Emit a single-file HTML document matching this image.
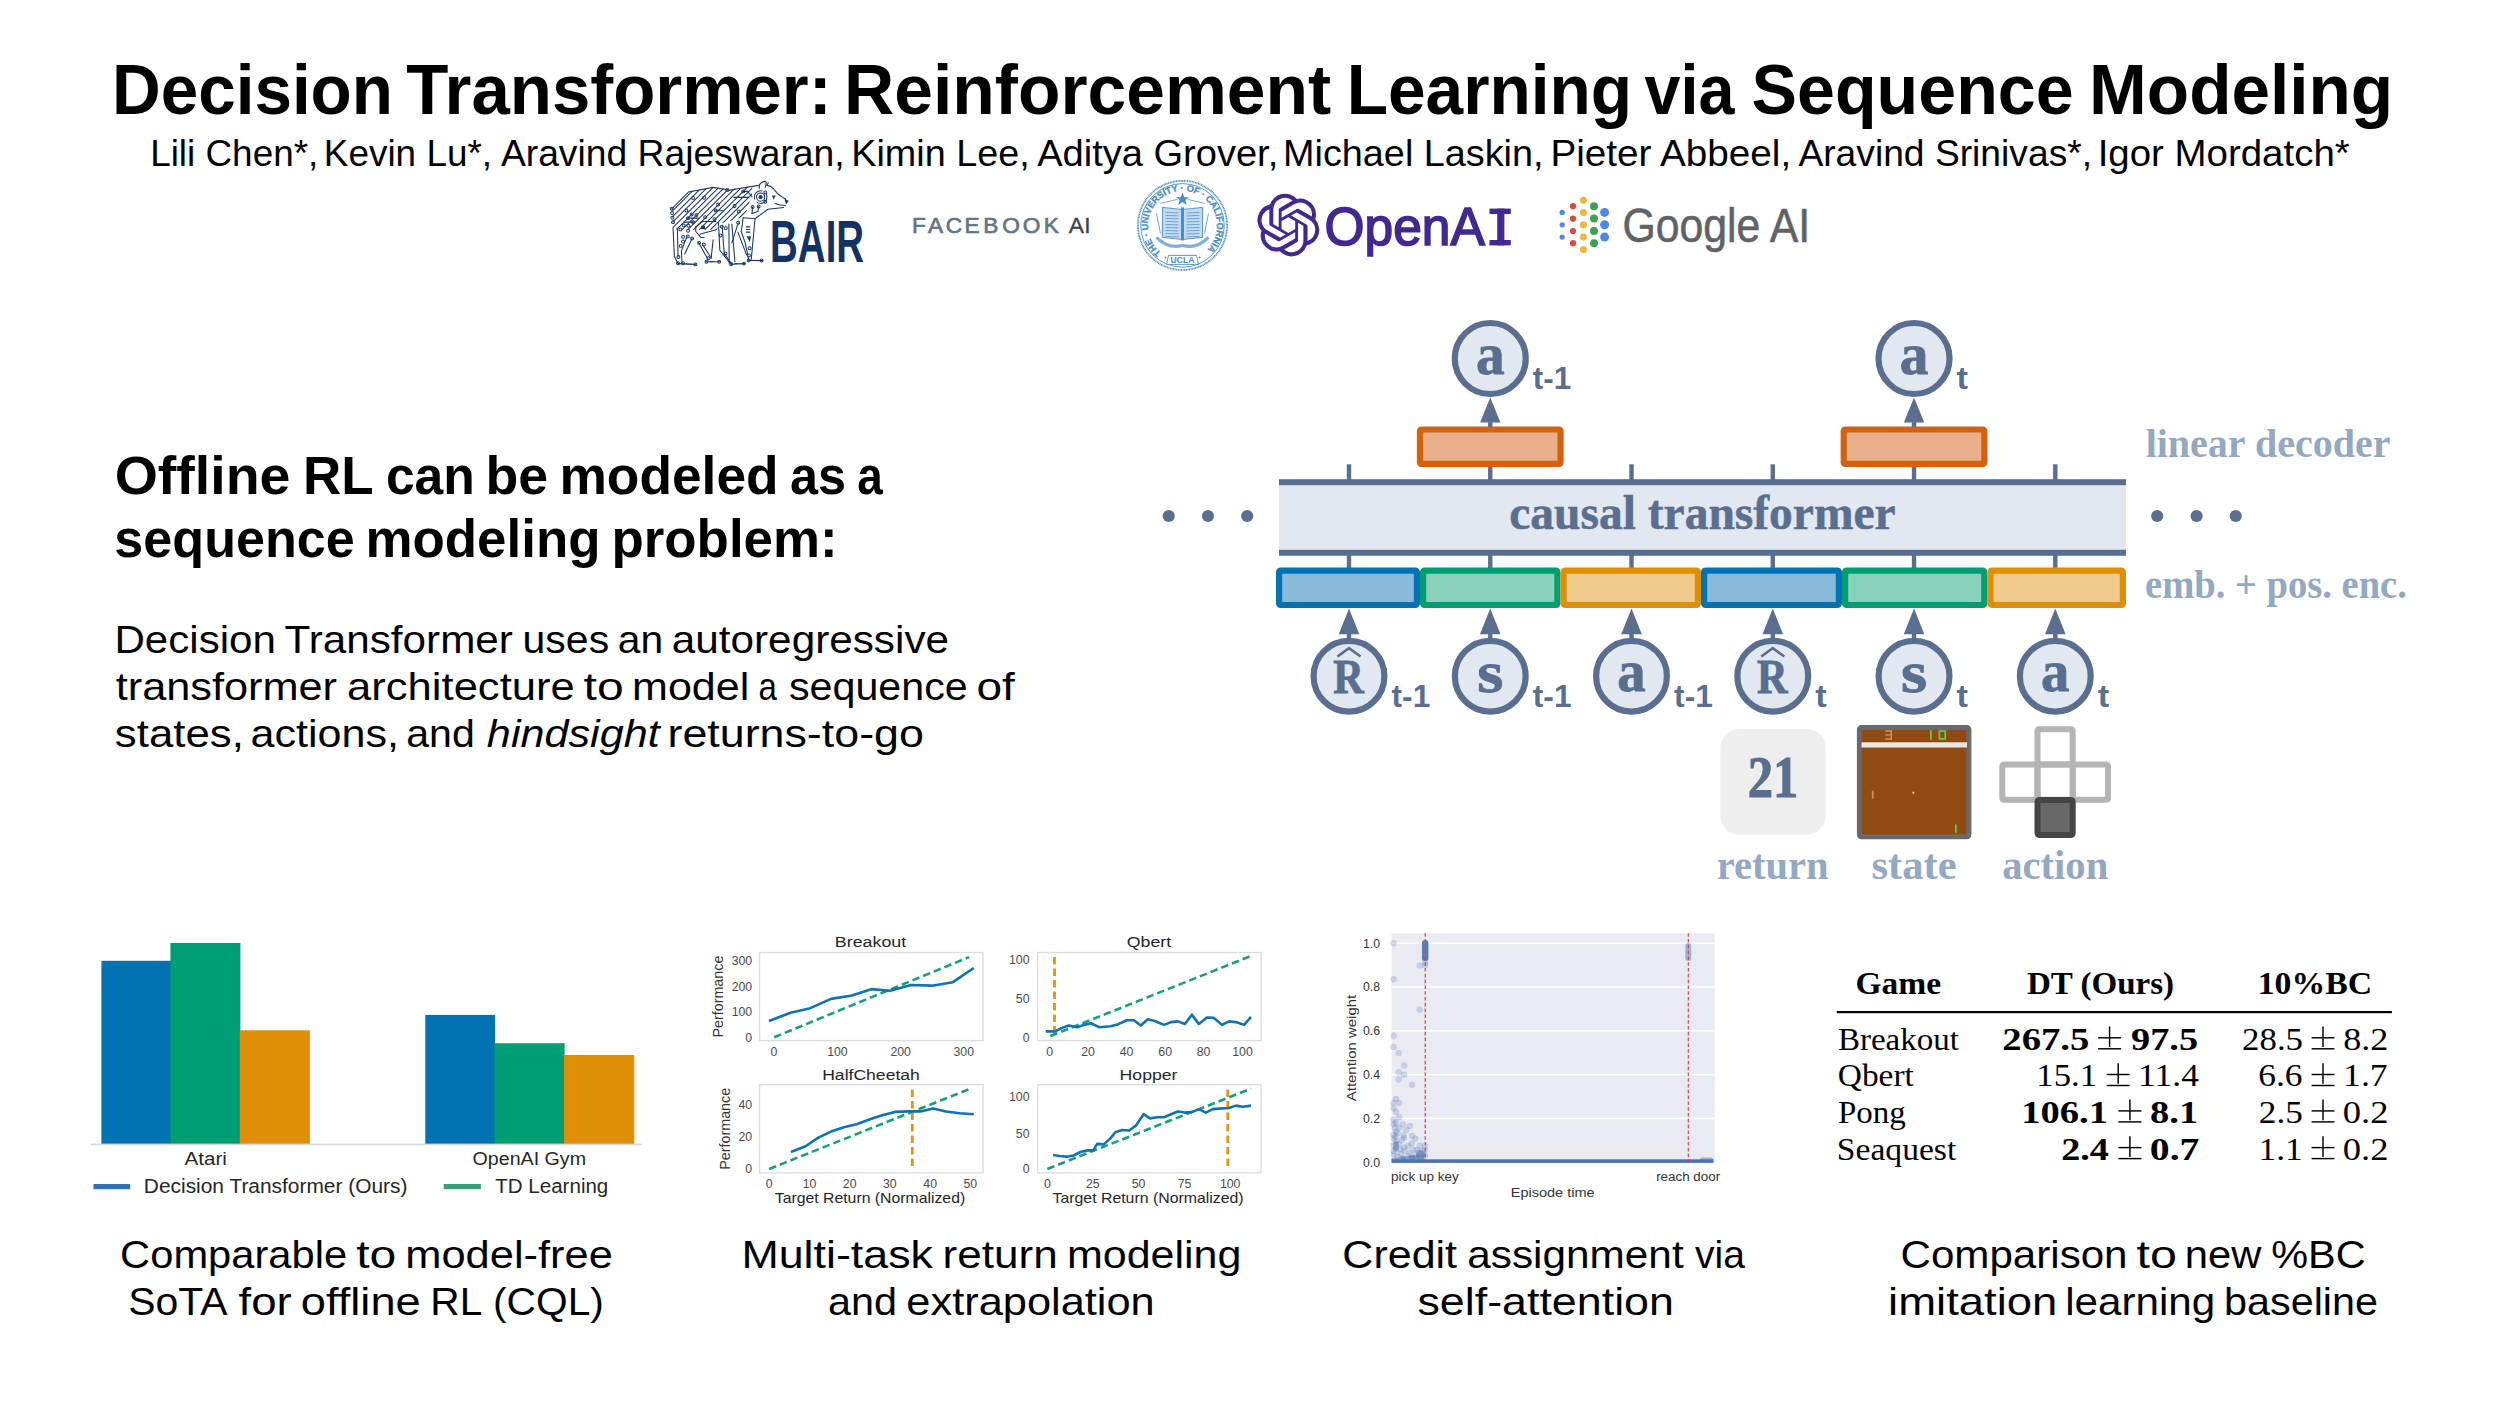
<!DOCTYPE html>
<html><head><meta charset="utf-8"><title>Decision Transformer</title>
<style>html,body{margin:0;padding:0;background:#fff;width:2500px;height:1406px;overflow:hidden}svg{display:block}text{font-kerning:normal}</style>
</head><body>
<svg width="2500" height="1406" viewBox="0 0 2500 1406">
<rect width="2500" height="1406" fill="#fff"/>
<text x="112.09" y="113.60" font-size="70" font-family='"Liberation Sans", sans-serif' font-weight="bold" font-style="normal" fill="#000" textLength="280.85" lengthAdjust="spacingAndGlyphs" >Decision</text>
<text x="406.23" y="113.60" font-size="70" font-family='"Liberation Sans", sans-serif' font-weight="bold" font-style="normal" fill="#000" textLength="425.47" lengthAdjust="spacingAndGlyphs" >Transformer:</text>
<text x="844.09" y="113.60" font-size="70" font-family='"Liberation Sans", sans-serif' font-weight="bold" font-style="normal" fill="#000" textLength="487.01" lengthAdjust="spacingAndGlyphs" >Reinforcement</text>
<text x="1346.72" y="113.60" font-size="70" font-family='"Liberation Sans", sans-serif' font-weight="bold" font-style="normal" fill="#000" textLength="285.43" lengthAdjust="spacingAndGlyphs" >Learning</text>
<text x="1644.57" y="113.60" font-size="70" font-family='"Liberation Sans", sans-serif' font-weight="bold" font-style="normal" fill="#000" textLength="89.93" lengthAdjust="spacingAndGlyphs" >via</text>
<text x="1751.51" y="113.60" font-size="70" font-family='"Liberation Sans", sans-serif' font-weight="bold" font-style="normal" fill="#000" textLength="322.14" lengthAdjust="spacingAndGlyphs" >Sequence</text>
<text x="2089.11" y="113.60" font-size="70" font-family='"Liberation Sans", sans-serif' font-weight="bold" font-style="normal" fill="#000" textLength="304.09" lengthAdjust="spacingAndGlyphs" >Modeling</text>
<text x="150.17" y="166.00" font-size="37.5" font-family='"Liberation Sans", sans-serif' font-weight="normal" font-style="normal" fill="#000" textLength="168.10" lengthAdjust="spacingAndGlyphs" >Lili Chen*,</text>
<text x="323.87" y="166.00" font-size="37.5" font-family='"Liberation Sans", sans-serif' font-weight="normal" font-style="normal" fill="#000" textLength="168.17" lengthAdjust="spacingAndGlyphs" >Kevin Lu*,</text>
<text x="500.90" y="166.00" font-size="37.5" font-family='"Liberation Sans", sans-serif' font-weight="normal" font-style="normal" fill="#000" textLength="343.71" lengthAdjust="spacingAndGlyphs" >Aravind Rajeswaran,</text>
<text x="851.29" y="166.00" font-size="37.5" font-family='"Liberation Sans", sans-serif' font-weight="normal" font-style="normal" fill="#000" textLength="178.35" lengthAdjust="spacingAndGlyphs" >Kimin Lee,</text>
<text x="1037.15" y="166.00" font-size="37.5" font-family='"Liberation Sans", sans-serif' font-weight="normal" font-style="normal" fill="#000" textLength="241.12" lengthAdjust="spacingAndGlyphs" >Aditya Grover,</text>
<text x="1283.04" y="166.00" font-size="37.5" font-family='"Liberation Sans", sans-serif' font-weight="normal" font-style="normal" fill="#000" textLength="260.52" lengthAdjust="spacingAndGlyphs" >Michael Laskin,</text>
<text x="1550.47" y="166.00" font-size="37.5" font-family='"Liberation Sans", sans-serif' font-weight="normal" font-style="normal" fill="#000" textLength="240.71" lengthAdjust="spacingAndGlyphs" >Pieter Abbeel,</text>
<text x="1798.40" y="166.00" font-size="37.5" font-family='"Liberation Sans", sans-serif' font-weight="normal" font-style="normal" fill="#000" textLength="293.68" lengthAdjust="spacingAndGlyphs" >Aravind Srinivas*,</text>
<text x="2097.67" y="166.00" font-size="37.5" font-family='"Liberation Sans", sans-serif' font-weight="normal" font-style="normal" fill="#000" textLength="252.06" lengthAdjust="spacingAndGlyphs" >Igor Mordatch*</text>
<g transform="translate(665,176) scale(0.06687)">
<defs><clipPath id="bearclip"><path d="M95,480 L350,232 L720,163 L940,198 L1090,185 L1310,150 L1300,290 L1190,610 L800,720 L760,860 L470,960 L350,860 L120,780 Z"/></clipPath></defs>
<g fill="none" stroke="#1c3768" stroke-width="16" stroke-linecap="round" stroke-linejoin="round">
<path d="M100,490 L350,240 L720,170 L930,205"/>
<path d="M960,215 L1090,190 L1400,140"/>
<path d="M1410,185 L1410,140 Q1440,80 1500,80 L1515,95 L1500,170"/><path d="M1525,140 L1545,100"/>
<path d="M1525,140 L1580,155 L1630,200 L1690,270 L1760,320 L1800,340"/>
<path d="M1645,410 Q1710,440 1800,440"/>
<path d="M1775,470 L1540,498 L1345,640 L1170,625"/>
<g clip-path="url(#bearclip)">
<path d="M-250,800 L430,120"/>
<path d="M-165,800 L515,120"/>
<path d="M-80,800 L600,120"/>
<path d="M5,800 L685,120"/>
<path d="M90,800 L770,120"/>
<path d="M175,800 L855,120"/>
<path d="M260,800 L940,120"/>
<path d="M345,800 L1025,120"/>
<path d="M430,800 L1110,120"/>
<path d="M515,800 L1195,120"/>
<path d="M600,800 L1280,120"/>
<path d="M685,800 L1365,120"/>
<path d="M770,800 L1450,120"/>
<path d="M855,800 L1535,120"/>
<path d="M940,800 L1620,120"/>
<path d="M1025,800 L1705,120"/>
<path d="M1110,800 L1790,120"/>
<path d="M1195,800 L1875,120"/>
<path d="M280,690 L450,690"/><path d="M330,630 L500,630"/><path d="M750,520 L880,520"/><path d="M1030,320 L1250,320"/>
<path d="M460,760 L560,680 L760,680"/><path d="M460,760 L460,830 L540,920 L700,920 L790,860"/><path d="M520,870 L780,800"/>
</g>
<path d="M120,770 L140,1200 L190,1305"/><path d="M185,780 L195,1205"/><path d="M255,1300 L245,1120 L330,900"/><path d="M295,1165 L405,935"/>
<path d="M200,1310 L455,1322"/>
<path d="M500,990 L640,1240"/><path d="M560,1020 L690,1225"/><path d="M720,955 L690,1230"/><path d="M610,1282 L820,1282"/>
<path d="M800,700 L820,1110 L985,1320"/><path d="M855,740 L885,1160 L1000,1318"/><path d="M955,720 L960,1300"/><path d="M1000,720 L1045,1285"/><path d="M1095,700 L1000,1000"/><path d="M990,1320 L1190,1310"/>
<path d="M1170,625 L1140,830 L1200,1000 L1250,1250"/><path d="M1345,650 L1290,1245"/><path d="M1250,1262 L1460,1265"/><path d="M1090,840 L1220,1180"/>
<path d="M1300,560 L1310,465"/><path d="M1300,560 L1390,530 L1400,455"/>
<circle cx="1430" cy="315" r="62"/><circle cx="1430" cy="315" r="95" stroke-dasharray="200 60"/>
<path d="M1170,230 L1235,230 L1300,310"/>
</g>
<g fill="none" stroke="#1c3768" stroke-width="15">
<circle cx="100" cy="490" r="22"/>
<circle cx="105" cy="555" r="22"/>
<circle cx="110" cy="625" r="22"/>
<circle cx="120" cy="690" r="22"/>
<circle cx="200" cy="1210" r="22"/>
<circle cx="195" cy="1305" r="22"/>
<circle cx="270" cy="1305" r="22"/>
<circle cx="455" cy="1322" r="22"/>
<circle cx="420" cy="330" r="22"/>
<circle cx="585" cy="325" r="22"/>
<circle cx="320" cy="515" r="22"/>
<circle cx="400" cy="575" r="22"/>
<circle cx="470" cy="585" r="22"/>
<circle cx="600" cy="615" r="22"/>
<circle cx="740" cy="645" r="22"/>
<circle cx="795" cy="425" r="22"/>
<circle cx="1040" cy="450" r="22"/>
<circle cx="1105" cy="530" r="22"/>
<circle cx="930" cy="210" r="22"/>
<circle cx="1170" cy="230" r="22"/>
<circle cx="1310" cy="465" r="22"/>
<circle cx="1400" cy="455" r="22"/>
<circle cx="1500" cy="245" r="22"/>
<circle cx="1500" cy="385" r="22"/>
<circle cx="350" cy="745" r="22"/>
<circle cx="230" cy="800" r="22"/>
<circle cx="280" cy="740" r="22"/>
<circle cx="345" cy="820" r="22"/>
<circle cx="270" cy="910" r="22"/>
<circle cx="235" cy="1045" r="22"/>
<circle cx="270" cy="980" r="22"/>
<circle cx="340" cy="905" r="22"/>
<circle cx="405" cy="935" r="22"/>
<circle cx="620" cy="1282" r="22"/>
<circle cx="810" cy="1282" r="22"/>
<circle cx="650" cy="1230" r="22"/>
<circle cx="990" cy="1320" r="22"/>
<circle cx="1180" cy="1310" r="22"/>
<circle cx="1250" cy="1262" r="22"/>
<circle cx="1445" cy="1265" r="22"/>
<circle cx="1255" cy="1190" r="22"/>
<circle cx="1265" cy="1080" r="22"/>
<circle cx="905" cy="1160" r="22"/>
<circle cx="1095" cy="700" r="22"/>
<circle cx="850" cy="760" r="22"/>
<circle cx="910" cy="780" r="22"/>
<circle cx="830" cy="890" r="22"/>
<circle cx="420" cy="690" r="22"/>
<circle cx="345" cy="630" r="22"/>
<circle cx="760" cy="515" r="22"/>
<circle cx="580" cy="1025" r="22"/>
<circle cx="510" cy="1000" r="22"/>
</g>
<g fill="#1c3768"><circle cx="1430" cy="315" r="32"/><path d="M1600,290 L1655,290 L1625,350 Z"/><path d="M1785,335 L1850,372 L1810,425 Z"/><rect x="540" y="745" width="60" height="50"/><path d="M1220,900 L1285,900 L1270,990 Z"/><path d="M1210,760 L1275,760 M1210,800 L1275,800 M1210,840 L1275,840" stroke="#1c3768" stroke-width="18"/><path d="M320,1305 L430,1322 L320,1322Z"/><path d="M670,1270 L790,1285 L670,1290Z"/><path d="M1040,1300 L1150,1312 L1040,1318Z"/><path d="M1290,1255 L1400,1265 L1290,1272Z"/></g>
</g>
<text x="770.12" y="262.00" font-size="59.6" font-family='"Liberation Sans", sans-serif' font-weight="bold" font-style="normal" fill="#143163" textLength="93.96" lengthAdjust="spacingAndGlyphs" >BAIR</text>
<text x="911.94 927.96 945.65 964.54 983.34 1002.13 1022.73 1043.74" y="233.0" font-size="22.7" font-family='"Liberation Sans", sans-serif' fill="#627585" stroke="#627585" stroke-width="0.7">FACEBOOK</text>
<text x="1068.76 1084.31" y="233.0" font-size="22.7" font-family='"Liberation Sans", sans-serif' fill="#36444e" stroke="#36444e" stroke-width="0.35">AI</text>
<g fill="none" stroke="#4a8dcb">
<circle cx="1182.5" cy="225.4" r="44.6" stroke-width="1.7" stroke-dasharray="1.1 0.5"/>
<circle cx="1182.5" cy="225.4" r="41.8" stroke-width="0.9"/>
</g>
<defs><path id="sealtxt" d="M1161.26,252.59 A34.5,34.5 0 1,1 1203.74,252.59"/></defs>
<text font-family='"Liberation Sans", sans-serif' font-size="9.2" font-weight="bold" fill="#4a8dcb" stroke="#4a8dcb" stroke-width="0.3"><textPath href="#sealtxt" textLength="166" lengthAdjust="spacing">THE · UNIVERSITY · OF · CALIFORNIA</textPath></text>
<circle cx="1165.5" cy="257.4" r="1" fill="#4a8dcb"/><circle cx="1199.5" cy="257.4" r="1" fill="#4a8dcb"/>
<g fill="#c4daf0" stroke="#4a8dcb" stroke-width="0.9">
<path d="M1162.5,207.4 L1181.5,209.4 L1181.5,239.4 L1162.5,237.4 Z"/><path d="M1183.5,209.4 L1202.5,207.4 L1202.5,237.4 L1183.5,239.4 Z"/>
</g>
<g stroke="#4a8dcb" stroke-width="0.7">
<line x1="1165.5" y1="212.4" x2="1178.5" y2="212.9"/><line x1="1186.5" y1="212.9" x2="1199.5" y2="212.4"/>
<line x1="1165.5" y1="215.4" x2="1178.5" y2="215.9"/><line x1="1186.5" y1="215.9" x2="1199.5" y2="215.4"/>
<line x1="1165.5" y1="218.4" x2="1178.5" y2="218.9"/><line x1="1186.5" y1="218.9" x2="1199.5" y2="218.4"/>
<line x1="1165.5" y1="221.4" x2="1178.5" y2="221.9"/><line x1="1186.5" y1="221.9" x2="1199.5" y2="221.4"/>
<line x1="1165.5" y1="224.4" x2="1178.5" y2="224.9"/><line x1="1186.5" y1="224.9" x2="1199.5" y2="224.4"/>
<line x1="1165.5" y1="227.4" x2="1178.5" y2="227.9"/><line x1="1186.5" y1="227.9" x2="1199.5" y2="227.4"/>
<line x1="1165.5" y1="230.4" x2="1178.5" y2="230.9"/><line x1="1186.5" y1="230.9" x2="1199.5" y2="230.4"/>
<line x1="1165.5" y1="233.4" x2="1178.5" y2="233.9"/><line x1="1186.5" y1="233.9" x2="1199.5" y2="233.4"/>
<line x1="1165.5" y1="236.4" x2="1178.5" y2="236.9"/><line x1="1186.5" y1="236.9" x2="1199.5" y2="236.4"/>
</g>
<rect x="1181.0" y="207.4" width="3" height="33" fill="#4a8dcb"/>
<path d="M1182.5,192.4 l1.8,4.8 4.8,0 -3.8,2.9 1.6,4.9 -4.4,-3 -4.4,3 1.6,-4.9 -3.8,-2.9 4.8,0z" fill="#4a8dcb"/>
<g fill="none" stroke="#4a8dcb" stroke-width="0.8"><path d="M1160.5,203.4 L1177.5,199.4 M1204.5,203.4 L1187.5,199.4 M1156.5,213.4 L1160.5,233.4 M1208.5,213.4 L1204.5,233.4"/></g>
<path d="M1156.5,237.4 Q1168.5,249.4 1182.5,245.4 Q1196.5,249.4 1208.5,237.4" fill="none" stroke="#4a8dcb" stroke-width="3.2" opacity="0.7"/>
<path d="M1168.5,255.4 L1196.5,255.4 L1198.5,264.4 L1166.5,264.4 Z" fill="#fff" stroke="#4a8dcb" stroke-width="0.9"/>
<text x="1182.5" y="263.0" text-anchor="middle" font-family='"Liberation Sans", sans-serif' font-size="8.6" font-weight="bold" fill="#4a8dcb" textLength="24" lengthAdjust="spacingAndGlyphs">UCLA</text>
<path transform="translate(1257,193.7) scale(2.6125)" fill="#412991" d="M22.2819 9.8211a5.9847 5.9847 0 0 0-.5157-4.9108 6.0462 6.0462 0 0 0-6.5098-2.9A6.0651 6.0651 0 0 0 4.9807 4.1818a5.9847 5.9847 0 0 0-3.9977 2.9 6.0462 6.0462 0 0 0 .7427 7.0966 5.98 5.98 0 0 0 .511 4.9107 6.051 6.051 0 0 0 6.5146 2.9001A5.9847 5.9847 0 0 0 13.2599 24a6.0557 6.0557 0 0 0 5.7718-4.2058 5.9894 5.9894 0 0 0 3.9977-2.9001 6.0557 6.0557 0 0 0-.7475-7.0729zm-9.022 12.6081a4.4755 4.4755 0 0 1-2.8764-1.0408l.1419-.0804 4.7783-2.7582a.7948.7948 0 0 0 .3927-.6813v-6.7369l2.02 1.1686a.071.071 0 0 1 .038.052v5.5826a4.504 4.504 0 0 1-4.4945 4.4944zm-9.6607-4.1254a4.4708 4.4708 0 0 1-.5346-3.0137l.142.0852 4.783 2.7582a.7712.7712 0 0 0 .7806 0l5.8428-3.3685v2.3324a.0804.0804 0 0 1-.0332.0615L9.74 19.9502a4.4992 4.4992 0 0 1-6.1408-1.6464zM2.3408 7.8956a4.485 4.485 0 0 1 2.3655-1.9728V11.6a.7664.7664 0 0 0 .3879.6765l5.8144 3.3543-2.0201 1.1685a.0757.0757 0 0 1-.071 0l-4.8303-2.7865A4.504 4.504 0 0 1 2.3408 7.872zm16.5963 3.8558L13.1038 8.364 15.1192 7.2a.0757.0757 0 0 1 .071 0l4.8303 2.7913a4.4944 4.4944 0 0 1-.6765 8.1042v-5.6772a.79.79 0 0 0-.407-.667zm2.0107-3.0231l-.142-.0852-4.7735-2.7818a.7759.7759 0 0 0-.7854 0L9.409 9.2297V6.8974a.0662.0662 0 0 1 .0284-.0615l4.8303-2.7866a4.4992 4.4992 0 0 1 6.6802 4.66zM8.3065 12.863l-2.02-1.1638a.0804.0804 0 0 1-.038-.0567V6.0742a4.4992 4.4992 0 0 1 7.3757-3.4537l-.142.0805L8.704 5.459a.7948.7948 0 0 0-.3927.6813zm1.0976-2.3654l2.602-1.4998 2.6069 1.4998v2.9994l-2.5974 1.4997-2.6067-1.4997Z"/>
<text x="1324.52" y="245.20" font-size="53.7" font-family='"Liberation Sans", sans-serif' font-weight="normal" font-style="normal" fill="#412991" textLength="160.19" lengthAdjust="spacingAndGlyphs" stroke="#412991" stroke-width="1.7">OpenA</text>
<g fill="#412991"><rect x="1489.5" y="208.6" width="21.3" height="5.4"/><rect x="1497.2" y="208.6" width="7.2" height="36.8"/><rect x="1489.5" y="240.0" width="21.3" height="5.4"/></g>
<circle cx="1562.2" cy="212.4" r="2.6" fill="#4f86ec"/>
<circle cx="1562.2" cy="224.8" r="2.6" fill="#4f86ec"/>
<circle cx="1562.2" cy="237.1" r="2.6" fill="#4f86ec"/>
<circle cx="1573.0" cy="206.2" r="3.1" fill="#dc4a3d"/>
<circle cx="1573.0" cy="218.6" r="3.1" fill="#dc4a3d"/>
<circle cx="1573.0" cy="231.0" r="3.1" fill="#dc4a3d"/>
<circle cx="1573.0" cy="243.2" r="3.1" fill="#dc4a3d"/>
<circle cx="1583.4" cy="200.2" r="3.5" fill="#f0b73a"/>
<circle cx="1583.4" cy="212.4" r="3.5" fill="#f0b73a"/>
<circle cx="1583.4" cy="224.8" r="3.5" fill="#f0b73a"/>
<circle cx="1583.4" cy="237.1" r="3.5" fill="#f0b73a"/>
<circle cx="1583.4" cy="249.4" r="3.5" fill="#f0b73a"/>
<circle cx="1594.0" cy="206.2" r="4.0" fill="#3ea150"/>
<circle cx="1594.0" cy="218.6" r="4.0" fill="#3ea150"/>
<circle cx="1594.0" cy="231.0" r="4.0" fill="#3ea150"/>
<circle cx="1594.0" cy="243.2" r="4.0" fill="#3ea150"/>
<circle cx="1604.6" cy="212.4" r="4.5" fill="#4f86ec"/>
<circle cx="1604.6" cy="224.8" r="4.5" fill="#4f86ec"/>
<circle cx="1604.6" cy="237.1" r="4.5" fill="#4f86ec"/>
<text x="1622.40" y="241.80" font-size="47.5" font-family='"Liberation Sans", sans-serif' font-weight="normal" font-style="normal" fill="#5f6368" textLength="187.80" lengthAdjust="spacingAndGlyphs" stroke="#5f6368" stroke-width="0.6">Google AI</text>
<text x="114.68" y="494.00" font-size="53" font-family='"Liberation Sans", sans-serif' font-weight="bold" font-style="normal" fill="#000" textLength="175.80" lengthAdjust="spacingAndGlyphs" >Offline</text>
<text x="303.05" y="494.00" font-size="53" font-family='"Liberation Sans", sans-serif' font-weight="bold" font-style="normal" fill="#000" textLength="70.61" lengthAdjust="spacingAndGlyphs" >RL</text>
<text x="385.93" y="494.00" font-size="53" font-family='"Liberation Sans", sans-serif' font-weight="bold" font-style="normal" fill="#000" textLength="88.91" lengthAdjust="spacingAndGlyphs" >can</text>
<text x="485.43" y="494.00" font-size="53" font-family='"Liberation Sans", sans-serif' font-weight="bold" font-style="normal" fill="#000" textLength="62.60" lengthAdjust="spacingAndGlyphs" >be</text>
<text x="559.44" y="494.00" font-size="53" font-family='"Liberation Sans", sans-serif' font-weight="bold" font-style="normal" fill="#000" textLength="219.18" lengthAdjust="spacingAndGlyphs" >modeled</text>
<text x="790.08" y="494.00" font-size="53" font-family='"Liberation Sans", sans-serif' font-weight="bold" font-style="normal" fill="#000" textLength="56.03" lengthAdjust="spacingAndGlyphs" >as</text>
<text x="857.21" y="494.00" font-size="53" font-family='"Liberation Sans", sans-serif' font-weight="bold" font-style="normal" fill="#000" textLength="25.52" lengthAdjust="spacingAndGlyphs" >a</text>
<text x="114.31" y="556.80" font-size="53" font-family='"Liberation Sans", sans-serif' font-weight="bold" font-style="normal" fill="#000" textLength="240.57" lengthAdjust="spacingAndGlyphs" >sequence</text>
<text x="365.47" y="556.80" font-size="53" font-family='"Liberation Sans", sans-serif' font-weight="bold" font-style="normal" fill="#000" textLength="235.09" lengthAdjust="spacingAndGlyphs" >modeling</text>
<text x="611.48" y="556.80" font-size="53" font-family='"Liberation Sans", sans-serif' font-weight="bold" font-style="normal" fill="#000" textLength="226.11" lengthAdjust="spacingAndGlyphs" >problem:</text>
<text x="114.45" y="652.80" font-size="39" font-family='"Liberation Sans", sans-serif' font-weight="normal" font-style="normal" fill="#000" textLength="161.46" lengthAdjust="spacingAndGlyphs" >Decision</text>
<text x="284.43" y="652.80" font-size="39" font-family='"Liberation Sans", sans-serif' font-weight="normal" font-style="normal" fill="#000" textLength="228.49" lengthAdjust="spacingAndGlyphs" >Transformer</text>
<text x="522.60" y="652.80" font-size="39" font-family='"Liberation Sans", sans-serif' font-weight="normal" font-style="normal" fill="#000" textLength="86.53" lengthAdjust="spacingAndGlyphs" >uses</text>
<text x="617.83" y="652.80" font-size="39" font-family='"Liberation Sans", sans-serif' font-weight="normal" font-style="normal" fill="#000" textLength="45.40" lengthAdjust="spacingAndGlyphs" >an</text>
<text x="671.76" y="652.80" font-size="39" font-family='"Liberation Sans", sans-serif' font-weight="normal" font-style="normal" fill="#000" textLength="277.32" lengthAdjust="spacingAndGlyphs" >autoregressive</text>
<text x="115.70" y="699.60" font-size="39" font-family='"Liberation Sans", sans-serif' font-weight="normal" font-style="normal" fill="#000" textLength="221.31" lengthAdjust="spacingAndGlyphs" >transformer</text>
<text x="347.11" y="699.60" font-size="39" font-family='"Liberation Sans", sans-serif' font-weight="normal" font-style="normal" fill="#000" textLength="227.59" lengthAdjust="spacingAndGlyphs" >architecture</text>
<text x="583.63" y="699.60" font-size="39" font-family='"Liberation Sans", sans-serif' font-weight="normal" font-style="normal" fill="#000" textLength="40.09" lengthAdjust="spacingAndGlyphs" >to</text>
<text x="632.08" y="699.60" font-size="39" font-family='"Liberation Sans", sans-serif' font-weight="normal" font-style="normal" fill="#000" textLength="117.19" lengthAdjust="spacingAndGlyphs" >model</text>
<text x="758.56" y="699.60" font-size="39" font-family='"Liberation Sans", sans-serif' font-weight="normal" font-style="normal" fill="#000" textLength="18.40" lengthAdjust="spacingAndGlyphs" >a</text>
<text x="788.95" y="699.60" font-size="39" font-family='"Liberation Sans", sans-serif' font-weight="normal" font-style="normal" fill="#000" textLength="178.75" lengthAdjust="spacingAndGlyphs" >sequence</text>
<text x="976.44" y="699.60" font-size="39" font-family='"Liberation Sans", sans-serif' font-weight="normal" font-style="normal" fill="#000" textLength="38.36" lengthAdjust="spacingAndGlyphs" >of</text>
<text x="114.85" y="747.10" font-size="39" font-family='"Liberation Sans", sans-serif' font-weight="normal" font-style="normal" fill="#000" textLength="129.04" lengthAdjust="spacingAndGlyphs" >states,</text>
<text x="250.53" y="747.10" font-size="39" font-family='"Liberation Sans", sans-serif' font-weight="normal" font-style="normal" fill="#000" textLength="148.41" lengthAdjust="spacingAndGlyphs" >actions,</text>
<text x="406.21" y="747.10" font-size="39" font-family='"Liberation Sans", sans-serif' font-weight="normal" font-style="normal" fill="#000" textLength="68.59" lengthAdjust="spacingAndGlyphs" >and</text>
<text x="486.89" y="747.10" font-size="39" font-family='"Liberation Sans", sans-serif' font-weight="normal" font-style="italic" fill="#000" textLength="172.77" lengthAdjust="spacingAndGlyphs" >hindsight</text>
<text x="667.48" y="747.10" font-size="39" font-family='"Liberation Sans", sans-serif' font-weight="normal" font-style="normal" fill="#000" textLength="256.42" lengthAdjust="spacingAndGlyphs" >returns-to-go</text>
<rect x="1279" y="484" width="847" height="67" fill="#e1e8f0"/>
<rect x="1279" y="479.2" width="847" height="6" fill="#5a6f8f"/>
<rect x="1279" y="549.8" width="847" height="6" fill="#5a6f8f"/>
<text x="1509.24" y="529.10" font-size="47.5" font-family='"Liberation Serif", serif' font-weight="bold" font-style="normal" fill="#5a6f8f" textLength="386.42" lengthAdjust="spacingAndGlyphs" stroke="#5a6f8f" stroke-width="0.5">causal transformer</text>
<rect x="1346.80" y="464.3" width="4.4" height="16" fill="#5a6f8f"/>
<rect x="1346.80" y="555" width="4.4" height="13" fill="#5a6f8f"/>
<rect x="1488.06" y="464.3" width="4.4" height="16" fill="#5a6f8f"/>
<rect x="1488.06" y="555" width="4.4" height="13" fill="#5a6f8f"/>
<rect x="1629.32" y="464.3" width="4.4" height="16" fill="#5a6f8f"/>
<rect x="1629.32" y="555" width="4.4" height="13" fill="#5a6f8f"/>
<rect x="1770.58" y="464.3" width="4.4" height="16" fill="#5a6f8f"/>
<rect x="1770.58" y="555" width="4.4" height="13" fill="#5a6f8f"/>
<rect x="1911.84" y="464.3" width="4.4" height="16" fill="#5a6f8f"/>
<rect x="1911.84" y="555" width="4.4" height="13" fill="#5a6f8f"/>
<rect x="2053.10" y="464.3" width="4.4" height="16" fill="#5a6f8f"/>
<rect x="2053.10" y="555" width="4.4" height="13" fill="#5a6f8f"/>
<rect x="1419.96" y="429.5" width="140.6" height="34.4" rx="1.5" fill="#e8b18b" stroke="#d4610c" stroke-width="6.2"/>
<path d="M1480.06,422.60 L1490.26,397.50 L1500.46,422.60 Z" fill="#5a6f8f"/>
<rect x="1488.06" y="422.10" width="4.4" height="4.90" fill="#5a6f8f"/>
<circle cx="1490.26" cy="358.50" r="35.50" fill="#e1e8f0" stroke="#5a6f8f" stroke-width="6.2"/>
<rect x="1843.74" y="429.5" width="140.6" height="34.4" rx="1.5" fill="#e8b18b" stroke="#d4610c" stroke-width="6.2"/>
<path d="M1903.84,422.60 L1914.04,397.50 L1924.24,422.60 Z" fill="#5a6f8f"/>
<rect x="1911.84" y="422.10" width="4.4" height="4.90" fill="#5a6f8f"/>
<circle cx="1914.04" cy="358.50" r="35.50" fill="#e1e8f0" stroke="#5a6f8f" stroke-width="6.2"/>
<text x="1476.09" y="373.90" font-size="60" font-family='"Liberation Serif", serif' font-weight="bold" font-style="normal" fill="#5a6f8f" textLength="28.67" lengthAdjust="spacingAndGlyphs" stroke="#5a6f8f" stroke-width="0.9">a</text>
<text x="1899.87" y="373.90" font-size="60" font-family='"Liberation Serif", serif' font-weight="bold" font-style="normal" fill="#5a6f8f" textLength="28.67" lengthAdjust="spacingAndGlyphs" stroke="#5a6f8f" stroke-width="0.9">a</text>
<text x="1532.78" y="388.90" font-size="31" font-family='"Liberation Sans", sans-serif' font-weight="bold" font-style="normal" fill="#5a6f8f" textLength="38.47" lengthAdjust="spacingAndGlyphs" >t-1</text>
<text x="1956.54" y="388.90" font-size="31" font-family='"Liberation Sans", sans-serif' font-weight="bold" font-style="normal" fill="#5a6f8f" textLength="11.45" lengthAdjust="spacingAndGlyphs" >t</text>
<rect x="1279.10" y="570.6" width="137.80" height="34.4" rx="1.5" fill="#88bbdb" stroke="#0173b2" stroke-width="6.2"/>
<rect x="1423.10" y="570.6" width="134.30" height="34.4" rx="1.5" fill="#88d1ba" stroke="#029e73" stroke-width="6.2"/>
<rect x="1563.60" y="570.6" width="134.30" height="34.4" rx="1.5" fill="#f0ca8c" stroke="#de8f05" stroke-width="6.2"/>
<rect x="1704.10" y="570.6" width="134.80" height="34.4" rx="1.5" fill="#88bbdb" stroke="#0173b2" stroke-width="6.2"/>
<rect x="1845.10" y="570.6" width="139.20" height="34.4" rx="1.5" fill="#88d1ba" stroke="#029e73" stroke-width="6.2"/>
<rect x="1990.50" y="570.6" width="132.40" height="34.4" rx="1.5" fill="#f0ca8c" stroke="#de8f05" stroke-width="6.2"/>
<path d="M1338.70,634.30 L1349.00,608.60 L1359.30,634.30 Z" fill="#5a6f8f"/>
<rect x="1346.80" y="633.80" width="4.4" height="5.20" fill="#5a6f8f"/>
<circle cx="1349.00" cy="676.20" r="35.40" fill="#e1e8f0" stroke="#5a6f8f" stroke-width="6.2"/>
<path d="M1479.96,634.30 L1490.26,608.60 L1500.56,634.30 Z" fill="#5a6f8f"/>
<rect x="1488.06" y="633.80" width="4.4" height="5.20" fill="#5a6f8f"/>
<circle cx="1490.26" cy="676.20" r="35.40" fill="#e1e8f0" stroke="#5a6f8f" stroke-width="6.2"/>
<path d="M1621.22,634.30 L1631.52,608.60 L1641.82,634.30 Z" fill="#5a6f8f"/>
<rect x="1629.32" y="633.80" width="4.4" height="5.20" fill="#5a6f8f"/>
<circle cx="1631.52" cy="676.20" r="35.40" fill="#e1e8f0" stroke="#5a6f8f" stroke-width="6.2"/>
<path d="M1762.48,634.30 L1772.78,608.60 L1783.08,634.30 Z" fill="#5a6f8f"/>
<rect x="1770.58" y="633.80" width="4.4" height="5.20" fill="#5a6f8f"/>
<circle cx="1772.78" cy="676.20" r="35.40" fill="#e1e8f0" stroke="#5a6f8f" stroke-width="6.2"/>
<path d="M1903.74,634.30 L1914.04,608.60 L1924.34,634.30 Z" fill="#5a6f8f"/>
<rect x="1911.84" y="633.80" width="4.4" height="5.20" fill="#5a6f8f"/>
<circle cx="1914.04" cy="676.20" r="35.40" fill="#e1e8f0" stroke="#5a6f8f" stroke-width="6.2"/>
<path d="M2045.00,634.30 L2055.30,608.60 L2065.60,634.30 Z" fill="#5a6f8f"/>
<rect x="2053.10" y="633.80" width="4.4" height="5.20" fill="#5a6f8f"/>
<circle cx="2055.30" cy="676.20" r="35.40" fill="#e1e8f0" stroke="#5a6f8f" stroke-width="6.2"/>
<text x="1333.13" y="693.30" font-size="48.4" font-family='"Liberation Serif", serif' font-weight="bold" font-style="normal" fill="#5a6f8f" textLength="30.51" lengthAdjust="spacingAndGlyphs" stroke="#5a6f8f" stroke-width="1.0">R</text>
<path d="M1337.50,656.5 L1349.00,648.2 L1360.50,656.5" fill="none" stroke="#5a6f8f" stroke-width="2.6"/>
<text x="1756.91" y="693.30" font-size="48.4" font-family='"Liberation Serif", serif' font-weight="bold" font-style="normal" fill="#5a6f8f" textLength="30.51" lengthAdjust="spacingAndGlyphs" stroke="#5a6f8f" stroke-width="1.0">R</text>
<path d="M1761.28,656.5 L1772.78,648.2 L1784.28,656.5" fill="none" stroke="#5a6f8f" stroke-width="2.6"/>
<text x="1477.26" y="691.50" font-size="60" font-family='"Liberation Serif", serif' font-weight="bold" font-style="normal" fill="#5a6f8f" textLength="26.14" lengthAdjust="spacingAndGlyphs" stroke="#5a6f8f" stroke-width="0.9">s</text>
<text x="1901.04" y="691.50" font-size="60" font-family='"Liberation Serif", serif' font-weight="bold" font-style="normal" fill="#5a6f8f" textLength="26.14" lengthAdjust="spacingAndGlyphs" stroke="#5a6f8f" stroke-width="0.9">s</text>
<text x="1617.21" y="691.30" font-size="60" font-family='"Liberation Serif", serif' font-weight="bold" font-style="normal" fill="#5a6f8f" textLength="28.33" lengthAdjust="spacingAndGlyphs" stroke="#5a6f8f" stroke-width="0.9">a</text>
<text x="2040.99" y="691.30" font-size="60" font-family='"Liberation Serif", serif' font-weight="bold" font-style="normal" fill="#5a6f8f" textLength="28.33" lengthAdjust="spacingAndGlyphs" stroke="#5a6f8f" stroke-width="0.9">a</text>
<text x="1391.58" y="706.50" font-size="31" font-family='"Liberation Sans", sans-serif' font-weight="bold" font-style="normal" fill="#5a6f8f" textLength="38.67" lengthAdjust="spacingAndGlyphs" >t-1</text>
<text x="1532.84" y="706.50" font-size="31" font-family='"Liberation Sans", sans-serif' font-weight="bold" font-style="normal" fill="#5a6f8f" textLength="38.67" lengthAdjust="spacingAndGlyphs" >t-1</text>
<text x="1674.10" y="706.50" font-size="31" font-family='"Liberation Sans", sans-serif' font-weight="bold" font-style="normal" fill="#5a6f8f" textLength="38.67" lengthAdjust="spacingAndGlyphs" >t-1</text>
<text x="1815.32" y="706.50" font-size="31" font-family='"Liberation Sans", sans-serif' font-weight="bold" font-style="normal" fill="#5a6f8f" textLength="11.45" lengthAdjust="spacingAndGlyphs" >t</text>
<text x="1956.58" y="706.50" font-size="31" font-family='"Liberation Sans", sans-serif' font-weight="bold" font-style="normal" fill="#5a6f8f" textLength="11.45" lengthAdjust="spacingAndGlyphs" >t</text>
<text x="2097.84" y="706.50" font-size="31" font-family='"Liberation Sans", sans-serif' font-weight="bold" font-style="normal" fill="#5a6f8f" textLength="11.45" lengthAdjust="spacingAndGlyphs" >t</text>
<circle cx="1168.7" cy="516" r="6.1" fill="#5a6f8f"/>
<circle cx="1208.0" cy="516" r="6.1" fill="#5a6f8f"/>
<circle cx="1247.2" cy="516" r="6.1" fill="#5a6f8f"/>
<circle cx="2157.2" cy="516" r="6.1" fill="#5a6f8f"/>
<circle cx="2196.6" cy="516" r="6.1" fill="#5a6f8f"/>
<circle cx="2235.7" cy="516" r="6.1" fill="#5a6f8f"/>
<text x="2145.65" y="456.60" font-size="41" font-family='"Liberation Serif", serif' font-weight="bold" font-style="normal" fill="#92a8c3" textLength="244.76" lengthAdjust="spacingAndGlyphs" >linear decoder</text>
<text x="2145.02" y="597.80" font-size="41" font-family='"Liberation Serif", serif' font-weight="bold" font-style="normal" fill="#92a8c3" textLength="261.84" lengthAdjust="spacingAndGlyphs" >emb. + pos. enc.</text>
<rect x="1720.3" y="728.9" width="105.3" height="105.8" rx="19" fill="#eeeeee"/>
<text x="1747.76" y="796.90" font-size="59" font-family='"Liberation Serif", serif' font-weight="bold" font-style="normal" fill="#5a6f8f" textLength="50.67" lengthAdjust="spacingAndGlyphs" stroke="#5a6f8f" stroke-width="1.0">21</text>
<rect x="1859.4" y="727.6" width="109.5" height="109.2" rx="2" fill="#914a12" stroke="#696969" stroke-width="5"/>
<rect x="1861.5" y="742.3" width="105.5" height="5.2" fill="#e9e6e6"/>
<g fill="#d98a4e"><rect x="1885.2" y="730.2" width="6.8" height="1.6"/><rect x="1890.4" y="730.2" width="1.6" height="9.5"/><rect x="1885.2" y="734.3" width="6.8" height="1.4"/><rect x="1885.2" y="738.3" width="6.8" height="1.6"/></g>
<g fill="#5ec75a"><rect x="1930" y="730.2" width="1.8" height="9.6"/><rect x="1938.5" y="730.2" width="7.6" height="9.6"/></g>
<rect x="1940.3" y="732" width="4" height="6" fill="#914a12"/>
<rect x="1871.8" y="790.8" width="1.8" height="7.8" fill="#d98a4e"/>
<rect x="1912.4" y="791.8" width="1.8" height="1.8" fill="#f0e0b0"/>
<rect x="1954.9" y="824.4" width="1.8" height="8.6" fill="#5ec75a"/>
<rect x="2037.5" y="729.3" width="35.2" height="35.2" rx="1.5" fill="#fff" fill-opacity="0" stroke="#b4b4b4" stroke-width="6"/>
<rect x="2002.3" y="764.6" width="35.2" height="35.2" rx="1.5" fill="#fff" fill-opacity="0" stroke="#b4b4b4" stroke-width="6"/>
<rect x="2072.8" y="764.6" width="35.2" height="35.2" rx="1.5" fill="#fff" fill-opacity="0" stroke="#b4b4b4" stroke-width="6"/>
<rect x="2037.5" y="764.6" width="35.2" height="35.2" rx="1.5" fill="#fff" fill-opacity="0" stroke="#b4b4b4" stroke-width="6"/>
<rect x="2037.5" y="799.9" width="35.2" height="35.2" rx="2" fill="#686868" stroke="#454545" stroke-width="6"/>
<text x="1716.82" y="879.40" font-size="43" font-family='"Liberation Serif", serif' font-weight="bold" font-style="normal" fill="#92a8c3" textLength="111.84" lengthAdjust="spacingAndGlyphs" >return</text>
<text x="1871.53" y="879.40" font-size="43" font-family='"Liberation Serif", serif' font-weight="bold" font-style="normal" fill="#92a8c3" textLength="85.07" lengthAdjust="spacingAndGlyphs" >state</text>
<text x="2002.23" y="879.40" font-size="43" font-family='"Liberation Serif", serif' font-weight="bold" font-style="normal" fill="#92a8c3" textLength="106.00" lengthAdjust="spacingAndGlyphs" >action</text>
<rect x="101.4" y="960.8" width="69.60" height="183.60" fill="#0173b2"/>
<rect x="170.4" y="943.0" width="70.00" height="201.40" fill="#029e73"/>
<rect x="239.8" y="1030.3" width="70.10" height="114.10" fill="#de8f05"/>
<rect x="425.3" y="1014.9" width="69.80" height="129.50" fill="#0173b2"/>
<rect x="494.5" y="1043.2" width="70.10" height="101.20" fill="#029e73"/>
<rect x="564.0" y="1055.0" width="70.30" height="89.40" fill="#de8f05"/>
<rect x="91" y="1143.6" width="550.6" height="1.6" fill="#d6d6d6"/>
<text x="184.46" y="1164.70" font-size="17.5" font-family='"Liberation Sans", sans-serif' font-weight="normal" font-style="normal" fill="#262626" textLength="42.39" lengthAdjust="spacingAndGlyphs" >Atari</text>
<text x="472.50" y="1164.70" font-size="17.5" font-family='"Liberation Sans", sans-serif' font-weight="normal" font-style="normal" fill="#262626" textLength="113.54" lengthAdjust="spacingAndGlyphs" >OpenAI Gym</text>
<rect x="93.5" y="1184.0" width="36.7" height="5.2" fill="#306fb1"/>
<rect x="443.7" y="1184.0" width="37.2" height="5.2" fill="#3f9c78"/>
<text x="143.87" y="1192.70" font-size="20" font-family='"Liberation Sans", sans-serif' font-weight="normal" font-style="normal" fill="#262626" textLength="263.59" lengthAdjust="spacingAndGlyphs" >Decision Transformer (Ours)</text>
<text x="495.29" y="1192.70" font-size="20" font-family='"Liberation Sans", sans-serif' font-weight="normal" font-style="normal" fill="#262626" textLength="113.00" lengthAdjust="spacingAndGlyphs" >TD Learning</text>
<rect x="759.6" y="952.5" width="223.40" height="88.10" fill="#fff" stroke="#dcdcdc" stroke-width="1.4"/>
<rect x="1037.6" y="952.5" width="223.40" height="88.10" fill="#fff" stroke="#dcdcdc" stroke-width="1.4"/>
<rect x="759.6" y="1084.7" width="223.40" height="88.20" fill="#fff" stroke="#dcdcdc" stroke-width="1.4"/>
<rect x="1037.6" y="1084.7" width="223.40" height="88.20" fill="#fff" stroke="#dcdcdc" stroke-width="1.4"/>
<text x="834.88" y="947.40" font-size="15.5" font-family='"Liberation Sans", sans-serif' font-weight="normal" font-style="normal" fill="#262626" textLength="71.36" lengthAdjust="spacingAndGlyphs" >Breakout</text>
<text x="1126.72" y="947.40" font-size="15.5" font-family='"Liberation Sans", sans-serif' font-weight="normal" font-style="normal" fill="#262626" textLength="44.39" lengthAdjust="spacingAndGlyphs" >Qbert</text>
<text x="822.20" y="1079.60" font-size="15.5" font-family='"Liberation Sans", sans-serif' font-weight="normal" font-style="normal" fill="#262626" textLength="97.65" lengthAdjust="spacingAndGlyphs" >HalfCheetah</text>
<text x="1119.59" y="1079.60" font-size="15.5" font-family='"Liberation Sans", sans-serif' font-weight="normal" font-style="normal" fill="#262626" textLength="57.88" lengthAdjust="spacingAndGlyphs" >Hopper</text>
<text x="752.20" y="965.00" font-size="12.3" font-family='"Liberation Sans", sans-serif' font-weight="normal" font-style="normal" fill="#4a4a4a" text-anchor="end" >300</text>
<text x="752.20" y="991.00" font-size="12.3" font-family='"Liberation Sans", sans-serif' font-weight="normal" font-style="normal" fill="#4a4a4a" text-anchor="end" >200</text>
<text x="752.20" y="1016.00" font-size="12.3" font-family='"Liberation Sans", sans-serif' font-weight="normal" font-style="normal" fill="#4a4a4a" text-anchor="end" >100</text>
<text x="752.20" y="1041.60" font-size="12.3" font-family='"Liberation Sans", sans-serif' font-weight="normal" font-style="normal" fill="#4a4a4a" text-anchor="end" >0</text>
<text x="773.80" y="1056.20" font-size="12.3" font-family='"Liberation Sans", sans-serif' font-weight="normal" font-style="normal" fill="#4a4a4a" text-anchor="middle" >0</text>
<text x="837.40" y="1056.20" font-size="12.3" font-family='"Liberation Sans", sans-serif' font-weight="normal" font-style="normal" fill="#4a4a4a" text-anchor="middle" >100</text>
<text x="900.70" y="1056.20" font-size="12.3" font-family='"Liberation Sans", sans-serif' font-weight="normal" font-style="normal" fill="#4a4a4a" text-anchor="middle" >200</text>
<text x="963.80" y="1056.20" font-size="12.3" font-family='"Liberation Sans", sans-serif' font-weight="normal" font-style="normal" fill="#4a4a4a" text-anchor="middle" >300</text>
<text x="1029.50" y="964.30" font-size="12.3" font-family='"Liberation Sans", sans-serif' font-weight="normal" font-style="normal" fill="#4a4a4a" text-anchor="end" >100</text>
<text x="1029.50" y="1002.80" font-size="12.3" font-family='"Liberation Sans", sans-serif' font-weight="normal" font-style="normal" fill="#4a4a4a" text-anchor="end" >50</text>
<text x="1029.50" y="1041.60" font-size="12.3" font-family='"Liberation Sans", sans-serif' font-weight="normal" font-style="normal" fill="#4a4a4a" text-anchor="end" >0</text>
<text x="1049.70" y="1056.20" font-size="12.3" font-family='"Liberation Sans", sans-serif' font-weight="normal" font-style="normal" fill="#4a4a4a" text-anchor="middle" >0</text>
<text x="1088.00" y="1056.20" font-size="12.3" font-family='"Liberation Sans", sans-serif' font-weight="normal" font-style="normal" fill="#4a4a4a" text-anchor="middle" >20</text>
<text x="1126.50" y="1056.20" font-size="12.3" font-family='"Liberation Sans", sans-serif' font-weight="normal" font-style="normal" fill="#4a4a4a" text-anchor="middle" >40</text>
<text x="1165.20" y="1056.20" font-size="12.3" font-family='"Liberation Sans", sans-serif' font-weight="normal" font-style="normal" fill="#4a4a4a" text-anchor="middle" >60</text>
<text x="1203.50" y="1056.20" font-size="12.3" font-family='"Liberation Sans", sans-serif' font-weight="normal" font-style="normal" fill="#4a4a4a" text-anchor="middle" >80</text>
<text x="1242.50" y="1056.20" font-size="12.3" font-family='"Liberation Sans", sans-serif' font-weight="normal" font-style="normal" fill="#4a4a4a" text-anchor="middle" >100</text>
<text x="752.20" y="1109.30" font-size="12.3" font-family='"Liberation Sans", sans-serif' font-weight="normal" font-style="normal" fill="#4a4a4a" text-anchor="end" >40</text>
<text x="752.20" y="1141.30" font-size="12.3" font-family='"Liberation Sans", sans-serif' font-weight="normal" font-style="normal" fill="#4a4a4a" text-anchor="end" >20</text>
<text x="752.20" y="1173.40" font-size="12.3" font-family='"Liberation Sans", sans-serif' font-weight="normal" font-style="normal" fill="#4a4a4a" text-anchor="end" >0</text>
<text x="769.10" y="1188.20" font-size="12.3" font-family='"Liberation Sans", sans-serif' font-weight="normal" font-style="normal" fill="#4a4a4a" text-anchor="middle" >0</text>
<text x="809.50" y="1188.20" font-size="12.3" font-family='"Liberation Sans", sans-serif' font-weight="normal" font-style="normal" fill="#4a4a4a" text-anchor="middle" >10</text>
<text x="849.70" y="1188.20" font-size="12.3" font-family='"Liberation Sans", sans-serif' font-weight="normal" font-style="normal" fill="#4a4a4a" text-anchor="middle" >20</text>
<text x="889.80" y="1188.20" font-size="12.3" font-family='"Liberation Sans", sans-serif' font-weight="normal" font-style="normal" fill="#4a4a4a" text-anchor="middle" >30</text>
<text x="930.20" y="1188.20" font-size="12.3" font-family='"Liberation Sans", sans-serif' font-weight="normal" font-style="normal" fill="#4a4a4a" text-anchor="middle" >40</text>
<text x="970.30" y="1188.20" font-size="12.3" font-family='"Liberation Sans", sans-serif' font-weight="normal" font-style="normal" fill="#4a4a4a" text-anchor="middle" >50</text>
<text x="1029.50" y="1101.40" font-size="12.3" font-family='"Liberation Sans", sans-serif' font-weight="normal" font-style="normal" fill="#4a4a4a" text-anchor="end" >100</text>
<text x="1029.50" y="1137.90" font-size="12.3" font-family='"Liberation Sans", sans-serif' font-weight="normal" font-style="normal" fill="#4a4a4a" text-anchor="end" >50</text>
<text x="1029.50" y="1173.40" font-size="12.3" font-family='"Liberation Sans", sans-serif' font-weight="normal" font-style="normal" fill="#4a4a4a" text-anchor="end" >0</text>
<text x="1047.30" y="1188.20" font-size="12.3" font-family='"Liberation Sans", sans-serif' font-weight="normal" font-style="normal" fill="#4a4a4a" text-anchor="middle" >0</text>
<text x="1092.80" y="1188.20" font-size="12.3" font-family='"Liberation Sans", sans-serif' font-weight="normal" font-style="normal" fill="#4a4a4a" text-anchor="middle" >25</text>
<text x="1138.50" y="1188.20" font-size="12.3" font-family='"Liberation Sans", sans-serif' font-weight="normal" font-style="normal" fill="#4a4a4a" text-anchor="middle" >50</text>
<text x="1184.50" y="1188.20" font-size="12.3" font-family='"Liberation Sans", sans-serif' font-weight="normal" font-style="normal" fill="#4a4a4a" text-anchor="middle" >75</text>
<text x="1230.20" y="1188.20" font-size="12.3" font-family='"Liberation Sans", sans-serif' font-weight="normal" font-style="normal" fill="#4a4a4a" text-anchor="middle" >100</text>
<text transform="translate(723.2,996.6) rotate(-90)" text-anchor="middle" font-family='"Liberation Sans", sans-serif' font-size="14.2" fill="#333" textLength="82" lengthAdjust="spacingAndGlyphs">Performance</text>
<text transform="translate(730.0,1128.8) rotate(-90)" text-anchor="middle" font-family='"Liberation Sans", sans-serif' font-size="14.2" fill="#333" textLength="82" lengthAdjust="spacingAndGlyphs">Performance</text>
<text x="774.77" y="1203.00" font-size="14.2" font-family='"Liberation Sans", sans-serif' font-weight="normal" font-style="normal" fill="#262626" textLength="190.42" lengthAdjust="spacingAndGlyphs" >Target Return (Normalized)</text>
<text x="1052.51" y="1203.00" font-size="14.2" font-family='"Liberation Sans", sans-serif' font-weight="normal" font-style="normal" fill="#262626" textLength="191.17" lengthAdjust="spacingAndGlyphs" >Target Return (Normalized)</text>
<line x1="774.2" y1="1037.2" x2="969.1" y2="957.1" stroke="#16a07a" stroke-width="2.6" stroke-dasharray="7.5 4"/>
<polyline points="768.91,1020.93 790.49,1012.81 810.21,1008.17 831.09,998.89 851.97,995.41 871.23,989.14 890.26,990.77 911.14,984.97 932.02,985.66 952.90,982.18 973.78,968.03" fill="none" stroke="#0d72b6" stroke-width="2.6" stroke-linejoin="round"/>
<line x1="1054.5" y1="957" x2="1054.5" y2="1033.7" stroke="#e0930f" stroke-width="2.8" stroke-dasharray="7.5 4"/>
<line x1="1050.35" y1="1036.01" x2="1251.04" y2="955.96" stroke="#16a07a" stroke-width="2.6" stroke-dasharray="7.5 4"/>
<polyline points="1045.71,1031.37 1054.99,1031.37 1061.95,1027.89 1068.91,1025.57 1077.03,1027.19 1083.99,1024.87 1090.95,1023.25 1099.07,1027.19 1110.67,1026.26 1117.63,1024.41 1126.91,1020.23 1133.87,1020.23 1140.84,1025.57 1147.80,1019.30 1154.76,1020.93 1164.04,1024.87 1171.00,1022.09 1177.96,1021.39 1184.92,1023.94 1191.88,1014.66 1198.84,1023.94 1206.96,1017.45 1213.92,1017.91 1222.04,1024.87 1229.00,1021.39 1235.96,1022.09 1244.08,1024.87 1251.04,1016.98" fill="none" stroke="#0d72b6" stroke-width="2.6" stroke-linejoin="round"/>
<line x1="912.3" y1="1089.4" x2="912.3" y2="1168.3" stroke="#e0930f" stroke-width="2.8" stroke-dasharray="7.5 4"/>
<line x1="769.14" y1="1168.96" x2="970.30" y2="1088.68" stroke="#16a07a" stroke-width="2.6" stroke-dasharray="7.5 4"/>
<polyline points="790.95,1152.02 805.57,1146.22 818.33,1137.63 831.09,1131.60 843.85,1127.19 856.61,1124.18 869.37,1119.54 882.13,1115.36 894.90,1111.88 907.66,1111.42 920.42,1111.42 933.18,1108.40 945.94,1111.42 959.86,1113.27 973.78,1114.20" fill="none" stroke="#0d72b6" stroke-width="2.6" stroke-linejoin="round"/>
<line x1="1227.8" y1="1089.4" x2="1227.8" y2="1168.3" stroke="#e0930f" stroke-width="2.8" stroke-dasharray="7.5 4"/>
<line x1="1047.33" y1="1168.96" x2="1251.04" y2="1088.68" stroke="#16a07a" stroke-width="2.6" stroke-dasharray="7.5 4"/>
<polyline points="1053.13,1155.03 1059.63,1155.96 1066.59,1156.66 1073.55,1155.50 1080.51,1152.02 1087.47,1150.39 1093.27,1150.39 1097.22,1143.90 1103.71,1144.36 1110.67,1138.10 1115.31,1132.30 1122.27,1129.98 1129.23,1130.44 1136.19,1125.34 1143.62,1114.20 1150.12,1118.38 1157.08,1117.22 1164.04,1117.22 1172.16,1113.74 1177.96,1111.42 1184.92,1112.58 1191.88,1112.11 1198.84,1109.10 1205.80,1112.58 1212.76,1109.10 1222.04,1108.40 1229.00,1107.94 1235.96,1105.61 1242.92,1106.77 1251.04,1105.61" fill="none" stroke="#0d72b6" stroke-width="2.6" stroke-linejoin="round"/>
<rect x="1391.5" y="933.2" width="323.2" height="229.8" fill="#eaeaf2"/>
<rect x="1391.5" y="1117.65" width="323.2" height="1.5" fill="#fff"/>
<rect x="1391.5" y="1073.85" width="323.2" height="1.5" fill="#fff"/>
<rect x="1391.5" y="1030.05" width="323.2" height="1.5" fill="#fff"/>
<rect x="1391.5" y="986.25" width="323.2" height="1.5" fill="#fff"/>
<rect x="1391.5" y="942.45" width="323.2" height="1.5" fill="#fff"/>
<text x="1380.10" y="1166.60" font-size="12.3" font-family='"Liberation Sans", sans-serif' font-weight="normal" font-style="normal" fill="#333" text-anchor="end" >0.0</text>
<text x="1380.10" y="1122.80" font-size="12.3" font-family='"Liberation Sans", sans-serif' font-weight="normal" font-style="normal" fill="#333" text-anchor="end" >0.2</text>
<text x="1380.10" y="1079.00" font-size="12.3" font-family='"Liberation Sans", sans-serif' font-weight="normal" font-style="normal" fill="#333" text-anchor="end" >0.4</text>
<text x="1380.10" y="1035.20" font-size="12.3" font-family='"Liberation Sans", sans-serif' font-weight="normal" font-style="normal" fill="#333" text-anchor="end" >0.6</text>
<text x="1380.10" y="991.40" font-size="12.3" font-family='"Liberation Sans", sans-serif' font-weight="normal" font-style="normal" fill="#333" text-anchor="end" >0.8</text>
<text x="1380.10" y="947.60" font-size="12.3" font-family='"Liberation Sans", sans-serif' font-weight="normal" font-style="normal" fill="#333" text-anchor="end" >1.0</text>
<text transform="translate(1355.5,1048) rotate(-90)" text-anchor="middle" font-family='"Liberation Sans", sans-serif' font-size="12.8" fill="#333" textLength="106.5" lengthAdjust="spacingAndGlyphs">Attention weight</text>
<text x="1391.09" y="1181.30" font-size="12.3" font-family='"Liberation Sans", sans-serif' font-weight="normal" font-style="normal" fill="#333" textLength="67.72" lengthAdjust="spacingAndGlyphs" >pick up key</text>
<text x="1656.17" y="1181.30" font-size="12.3" font-family='"Liberation Sans", sans-serif' font-weight="normal" font-style="normal" fill="#333" textLength="63.96" lengthAdjust="spacingAndGlyphs" >reach door</text>
<text x="1510.69" y="1197.30" font-size="12.8" font-family='"Liberation Sans", sans-serif' font-weight="normal" font-style="normal" fill="#333" textLength="84.02" lengthAdjust="spacingAndGlyphs" >Episode time</text>
<g fill="#4c72b0" fill-opacity="0.22" stroke="#4c72b0" stroke-opacity="0.12" stroke-width="0.8">
<circle cx="1393.54" cy="943.33" r="3"/>
<circle cx="1393.54" cy="979.27" r="3"/>
<circle cx="1419.70" cy="965.57" r="3"/>
<circle cx="1419.70" cy="1009.52" r="3"/>
<circle cx="1393.54" cy="1035.85" r="3"/>
<circle cx="1393.54" cy="1046.89" r="3"/>
<circle cx="1398.70" cy="1053.11" r="3"/>
<circle cx="1404.04" cy="1065.57" r="3"/>
<circle cx="1398.70" cy="1072.33" r="3"/>
<circle cx="1404.04" cy="1074.82" r="3"/>
<circle cx="1398.70" cy="1079.45" r="3"/>
<circle cx="1412.05" cy="1084.79" r="3"/>
<circle cx="1396.03" cy="1099.02" r="3"/>
<circle cx="1393.54" cy="1102.94" r="3"/>
<circle cx="1399.23" cy="1102.94" r="3"/>
<circle cx="1393.54" cy="1108.27" r="3"/>
<circle cx="1393.54" cy="1119.84" r="3"/>
<circle cx="1396.03" cy="1122.51" r="3"/>
<circle cx="1399.23" cy="1127.85" r="3"/>
<circle cx="1396.03" cy="1131.41" r="3"/>
<circle cx="1393.54" cy="1134.96" r="3"/>
<circle cx="1404.04" cy="1137.63" r="3"/>
<circle cx="1412.05" cy="1135.85" r="3"/>
<circle cx="1415.25" cy="1138.52" r="3"/>
<circle cx="1396.03" cy="1141.19" r="3"/>
<circle cx="1404.04" cy="1147.42" r="3"/>
<circle cx="1396.03" cy="1149.20" r="3"/>
<circle cx="1408.13" cy="1145.64" r="3"/>
<circle cx="1417.03" cy="1150.09" r="3"/>
<circle cx="1393.54" cy="1150.98" r="3"/>
<circle cx="1401.01" cy="1153.65" r="3"/>
<circle cx="1409.91" cy="1152.76" r="3"/>
<circle cx="1420.59" cy="1154.54" r="3"/>
<circle cx="1425.04" cy="1150.09" r="3"/>
<circle cx="1425.04" cy="1155.43" r="3"/>
<circle cx="1425.04" cy="965.57" r="3"/>
<circle cx="1397.46" cy="1133.19" r="3"/>
<circle cx="1394.79" cy="1127.85" r="3"/>
<circle cx="1393.54" cy="1124.29" r="3"/>
<circle cx="1396.03" cy="1111.83" r="3"/>
<circle cx="1399.23" cy="1117.17" r="3"/>
<circle cx="1402.79" cy="1124.29" r="3"/>
<circle cx="1406.35" cy="1129.63" r="3"/>
<circle cx="1409.91" cy="1126.07" r="3"/>
<circle cx="1393.54" cy="1138.52" r="3"/>
<circle cx="1398.35" cy="1143.86" r="3"/>
<circle cx="1401.90" cy="1140.30" r="3"/>
<circle cx="1411.69" cy="1143.86" r="3"/>
<circle cx="1393.54" cy="1145.64" r="3"/>
<circle cx="1404.57" cy="1150.98" r="3"/>
<circle cx="1413.47" cy="1150.09" r="3"/>
<circle cx="1418.81" cy="1152.76" r="3"/>
<circle cx="1408.13" cy="1156.32" r="3"/>
<circle cx="1397.46" cy="1156.32" r="3"/>
<circle cx="1415.25" cy="1156.32" r="3"/>
<circle cx="1422.37" cy="1150.98" r="3"/>
<circle cx="1425.04" cy="1145.64" r="3"/>
<circle cx="1419.70" cy="1145.64" r="3"/>
<circle cx="1393.54" cy="1154.54" r="3"/>
<circle cx="1400.12" cy="1149.20" r="3"/>
<circle cx="1403.68" cy="1134.96" r="3"/>
<circle cx="1395.68" cy="1136.74" r="3"/>
</g>
<g fill="#4c72b0" fill-opacity="0.55">
<rect x="1391.5" y="1158.00" width="3" height="2.00"/>
<rect x="1394.5" y="1157.64" width="3" height="2.36"/>
<rect x="1397.5" y="1157.28" width="3" height="2.72"/>
<rect x="1400.5" y="1156.92" width="3" height="3.08"/>
<rect x="1403.5" y="1156.56" width="3" height="3.44"/>
<rect x="1406.5" y="1156.20" width="3" height="3.80"/>
<rect x="1409.5" y="1155.84" width="3" height="4.16"/>
<rect x="1412.5" y="1155.48" width="3" height="4.52"/>
<rect x="1415.5" y="1155.12" width="3" height="4.88"/>
<rect x="1418.5" y="1154.76" width="3" height="5.24"/>
<rect x="1421.5" y="1154.40" width="3" height="5.60"/>
</g>
<g fill="#4c72b0" fill-opacity="0.5"><ellipse cx="1420.5" cy="1155" rx="4.5" ry="5"/><ellipse cx="1412" cy="1157.5" rx="3.5" ry="3"/><ellipse cx="1403" cy="1158" rx="3" ry="2.5"/><ellipse cx="1396" cy="1146" rx="3" ry="5"/></g>
<rect x="1422" y="940" width="6.4" height="21" rx="3.2" fill="#4c72b0" fill-opacity="0.9"/>
<rect x="1422.2" y="956" width="6" height="10" rx="3" fill="#4c72b0" fill-opacity="0.3"/>
<rect x="1685.3" y="943" width="6" height="18" rx="3" fill="#4c72b0" fill-opacity="0.45"/>
<rect x="1391.5" y="1159.3" width="322" height="3.6" fill="#4c72b0"/>
<rect x="1700" y="1157.5" width="13" height="4" rx="2" fill="#4c72b0" fill-opacity="0.5"/>
<line x1="1425.3" y1="933.2" x2="1425.3" y2="1163" stroke="#c44e52" stroke-width="1.4" stroke-dasharray="3.6 2.2" opacity="0.9"/>
<line x1="1688.4" y1="933.2" x2="1688.4" y2="1163" stroke="#c44e52" stroke-width="1.4" stroke-dasharray="3.6 2.2" opacity="0.9"/>
<text x="1855.52" y="994.00" font-size="32.5" font-family='"Liberation Serif", serif' font-weight="bold" font-style="normal" fill="#000" textLength="85.59" lengthAdjust="spacingAndGlyphs" >Game</text>
<text x="2026.98" y="994.00" font-size="32.5" font-family='"Liberation Serif", serif' font-weight="bold" font-style="normal" fill="#000" textLength="147.13" lengthAdjust="spacingAndGlyphs" >DT (Ours)</text>
<text x="2257.67" y="994.00" font-size="32.5" font-family='"Liberation Serif", serif' font-weight="bold" font-style="normal" fill="#000" textLength="114.40" lengthAdjust="spacingAndGlyphs" >10%BC</text>
<rect x="1836.8" y="1011" width="555.1" height="2.2" fill="#000"/>
<text x="1837.93" y="1049.70" font-size="31" font-family='"Liberation Serif", serif' font-weight="normal" font-style="normal" fill="#000" textLength="121.10" lengthAdjust="spacingAndGlyphs" >Breakout</text>
<text x="2002.31" y="1049.70" font-size="31" font-family='"Liberation Serif", serif' font-weight="bold" font-style="normal" fill="#000" textLength="87.05" lengthAdjust="spacingAndGlyphs" >267.5</text>
<g stroke="#000" stroke-width="1.45"><line x1="2109.60" y1="1026.50" x2="2109.60" y2="1047.10"/><line x1="2098.10" y1="1037.80" x2="2121.10" y2="1037.80"/><line x1="2098.10" y1="1048.80" x2="2121.10" y2="1048.80"/></g>
<text x="2131.00" y="1049.70" font-size="31" font-family='"Liberation Serif", serif' font-weight="bold" font-style="normal" fill="#000" textLength="67.07" lengthAdjust="spacingAndGlyphs" >97.5</text>
<text x="2242.12" y="1049.70" font-size="31" font-family='"Liberation Serif", serif' font-weight="normal" font-style="normal" fill="#000" textLength="60.86" lengthAdjust="spacingAndGlyphs" >28.5</text>
<g stroke="#000" stroke-width="1.45"><line x1="2323.00" y1="1026.50" x2="2323.00" y2="1047.10"/><line x1="2311.60" y1="1037.80" x2="2334.40" y2="1037.80"/><line x1="2311.60" y1="1048.80" x2="2334.40" y2="1048.80"/></g>
<text x="2343.20" y="1049.70" font-size="31" font-family='"Liberation Serif", serif' font-weight="normal" font-style="normal" fill="#000" textLength="45.22" lengthAdjust="spacingAndGlyphs" >8.2</text>
<text x="1837.75" y="1086.40" font-size="31" font-family='"Liberation Serif", serif' font-weight="normal" font-style="normal" fill="#000" textLength="76.13" lengthAdjust="spacingAndGlyphs" >Qbert</text>
<text x="2036.39" y="1086.40" font-size="31" font-family='"Liberation Serif", serif' font-weight="normal" font-style="normal" fill="#000" textLength="60.60" lengthAdjust="spacingAndGlyphs" >15.1</text>
<g stroke="#000" stroke-width="1.45"><line x1="2118.20" y1="1063.20" x2="2118.20" y2="1083.80"/><line x1="2106.70" y1="1074.50" x2="2129.70" y2="1074.50"/><line x1="2106.70" y1="1085.50" x2="2129.70" y2="1085.50"/></g>
<text x="2138.11" y="1086.40" font-size="31" font-family='"Liberation Serif", serif' font-weight="normal" font-style="normal" fill="#000" textLength="60.86" lengthAdjust="spacingAndGlyphs" >11.4</text>
<text x="2258.31" y="1086.40" font-size="31" font-family='"Liberation Serif", serif' font-weight="normal" font-style="normal" fill="#000" textLength="44.26" lengthAdjust="spacingAndGlyphs" >6.6</text>
<g stroke="#000" stroke-width="1.45"><line x1="2323.00" y1="1063.20" x2="2323.00" y2="1083.80"/><line x1="2311.60" y1="1074.50" x2="2334.40" y2="1074.50"/><line x1="2311.60" y1="1085.50" x2="2334.40" y2="1085.50"/></g>
<text x="2343.10" y="1086.40" font-size="31" font-family='"Liberation Serif", serif' font-weight="normal" font-style="normal" fill="#000" textLength="44.63" lengthAdjust="spacingAndGlyphs" >1.7</text>
<text x="1837.93" y="1122.80" font-size="31" font-family='"Liberation Serif", serif' font-weight="normal" font-style="normal" fill="#000" textLength="67.80" lengthAdjust="spacingAndGlyphs" >Pong</text>
<text x="2021.18" y="1122.80" font-size="31" font-family='"Liberation Serif", serif' font-weight="bold" font-style="normal" fill="#000" textLength="86.75" lengthAdjust="spacingAndGlyphs" >106.1</text>
<g stroke="#000" stroke-width="1.45"><line x1="2129.90" y1="1099.60" x2="2129.90" y2="1120.20"/><line x1="2118.40" y1="1110.90" x2="2141.40" y2="1110.90"/><line x1="2118.40" y1="1121.90" x2="2141.40" y2="1121.90"/></g>
<text x="2150.04" y="1122.80" font-size="31" font-family='"Liberation Serif", serif' font-weight="bold" font-style="normal" fill="#000" textLength="48.09" lengthAdjust="spacingAndGlyphs" >8.1</text>
<text x="2258.80" y="1122.80" font-size="31" font-family='"Liberation Serif", serif' font-weight="normal" font-style="normal" fill="#000" textLength="44.00" lengthAdjust="spacingAndGlyphs" >2.5</text>
<g stroke="#000" stroke-width="1.45"><line x1="2323.00" y1="1099.60" x2="2323.00" y2="1120.20"/><line x1="2311.60" y1="1110.90" x2="2334.40" y2="1110.90"/><line x1="2311.60" y1="1121.90" x2="2334.40" y2="1121.90"/></g>
<text x="2342.68" y="1122.80" font-size="31" font-family='"Liberation Serif", serif' font-weight="normal" font-style="normal" fill="#000" textLength="45.76" lengthAdjust="spacingAndGlyphs" >0.2</text>
<text x="1836.80" y="1159.50" font-size="31" font-family='"Liberation Serif", serif' font-weight="normal" font-style="normal" fill="#000" textLength="119.50" lengthAdjust="spacingAndGlyphs" >Seaquest</text>
<text x="2061.23" y="1159.50" font-size="31" font-family='"Liberation Serif", serif' font-weight="bold" font-style="normal" fill="#000" textLength="47.63" lengthAdjust="spacingAndGlyphs" >2.4</text>
<g stroke="#000" stroke-width="1.45"><line x1="2129.90" y1="1136.30" x2="2129.90" y2="1156.90"/><line x1="2118.40" y1="1147.60" x2="2141.40" y2="1147.60"/><line x1="2118.40" y1="1158.60" x2="2141.40" y2="1158.60"/></g>
<text x="2149.85" y="1159.50" font-size="31" font-family='"Liberation Serif", serif' font-weight="bold" font-style="normal" fill="#000" textLength="49.60" lengthAdjust="spacingAndGlyphs" >0.7</text>
<text x="2258.64" y="1159.50" font-size="31" font-family='"Liberation Serif", serif' font-weight="normal" font-style="normal" fill="#000" textLength="44.08" lengthAdjust="spacingAndGlyphs" >1.1</text>
<g stroke="#000" stroke-width="1.45"><line x1="2323.00" y1="1136.30" x2="2323.00" y2="1156.90"/><line x1="2311.60" y1="1147.60" x2="2334.40" y2="1147.60"/><line x1="2311.60" y1="1158.60" x2="2334.40" y2="1158.60"/></g>
<text x="2342.68" y="1159.50" font-size="31" font-family='"Liberation Serif", serif' font-weight="normal" font-style="normal" fill="#000" textLength="45.76" lengthAdjust="spacingAndGlyphs" >0.2</text>
<text x="120.13" y="1268.10" font-size="39" font-family='"Liberation Sans", sans-serif' font-weight="normal" font-style="normal" fill="#000" textLength="226.99" lengthAdjust="spacingAndGlyphs" >Comparable</text>
<text x="356.23" y="1268.10" font-size="39" font-family='"Liberation Sans", sans-serif' font-weight="normal" font-style="normal" fill="#000" textLength="40.09" lengthAdjust="spacingAndGlyphs" >to</text>
<text x="405.25" y="1268.10" font-size="39" font-family='"Liberation Sans", sans-serif' font-weight="normal" font-style="normal" fill="#000" textLength="207.62" lengthAdjust="spacingAndGlyphs" >model-free</text>
<text x="128.23" y="1315.00" font-size="39" font-family='"Liberation Sans", sans-serif' font-weight="normal" font-style="normal" fill="#000" textLength="99.35" lengthAdjust="spacingAndGlyphs" >SoTA</text>
<text x="238.53" y="1315.00" font-size="39" font-family='"Liberation Sans", sans-serif' font-weight="normal" font-style="normal" fill="#000" textLength="53.27" lengthAdjust="spacingAndGlyphs" >for</text>
<text x="300.87" y="1315.00" font-size="39" font-family='"Liberation Sans", sans-serif' font-weight="normal" font-style="normal" fill="#000" textLength="119.81" lengthAdjust="spacingAndGlyphs" >offline</text>
<text x="430.38" y="1315.00" font-size="39" font-family='"Liberation Sans", sans-serif' font-weight="normal" font-style="normal" fill="#000" textLength="51.93" lengthAdjust="spacingAndGlyphs" >RL</text>
<text x="493.01" y="1315.00" font-size="39" font-family='"Liberation Sans", sans-serif' font-weight="normal" font-style="normal" fill="#000" textLength="110.85" lengthAdjust="spacingAndGlyphs" >(CQL)</text>
<text x="741.43" y="1268.10" font-size="39" font-family='"Liberation Sans", sans-serif' font-weight="normal" font-style="normal" fill="#000" textLength="191.56" lengthAdjust="spacingAndGlyphs" >Multi-task</text>
<text x="942.62" y="1268.10" font-size="39" font-family='"Liberation Sans", sans-serif' font-weight="normal" font-style="normal" fill="#000" textLength="115.20" lengthAdjust="spacingAndGlyphs" >return</text>
<text x="1066.98" y="1268.10" font-size="39" font-family='"Liberation Sans", sans-serif' font-weight="normal" font-style="normal" fill="#000" textLength="174.47" lengthAdjust="spacingAndGlyphs" >modeling</text>
<text x="828.10" y="1315.00" font-size="39" font-family='"Liberation Sans", sans-serif' font-weight="normal" font-style="normal" fill="#000" textLength="69.02" lengthAdjust="spacingAndGlyphs" >and</text>
<text x="906.33" y="1315.00" font-size="39" font-family='"Liberation Sans", sans-serif' font-weight="normal" font-style="normal" fill="#000" textLength="248.39" lengthAdjust="spacingAndGlyphs" >extrapolation</text>
<text x="1342.36" y="1268.10" font-size="39" font-family='"Liberation Sans", sans-serif' font-weight="normal" font-style="normal" fill="#000" textLength="114.70" lengthAdjust="spacingAndGlyphs" >Credit</text>
<text x="1467.26" y="1268.10" font-size="39" font-family='"Liberation Sans", sans-serif' font-weight="normal" font-style="normal" fill="#000" textLength="216.39" lengthAdjust="spacingAndGlyphs" >assignment</text>
<text x="1695.02" y="1268.10" font-size="39" font-family='"Liberation Sans", sans-serif' font-weight="normal" font-style="normal" fill="#000" textLength="49.95" lengthAdjust="spacingAndGlyphs" >via</text>
<text x="1417.42" y="1315.00" font-size="39" font-family='"Liberation Sans", sans-serif' font-weight="normal" font-style="normal" fill="#000" textLength="256.56" lengthAdjust="spacingAndGlyphs" >self-attention</text>
<text x="1900.50" y="1268.10" font-size="39" font-family='"Liberation Sans", sans-serif' font-weight="normal" font-style="normal" fill="#000" textLength="227.05" lengthAdjust="spacingAndGlyphs" >Comparison</text>
<text x="2136.62" y="1268.10" font-size="39" font-family='"Liberation Sans", sans-serif' font-weight="normal" font-style="normal" fill="#000" textLength="40.31" lengthAdjust="spacingAndGlyphs" >to</text>
<text x="2184.76" y="1268.10" font-size="39" font-family='"Liberation Sans", sans-serif' font-weight="normal" font-style="normal" fill="#000" textLength="76.58" lengthAdjust="spacingAndGlyphs" >new</text>
<text x="2271.16" y="1268.10" font-size="39" font-family='"Liberation Sans", sans-serif' font-weight="normal" font-style="normal" fill="#000" textLength="94.42" lengthAdjust="spacingAndGlyphs" >%BC</text>
<text x="1888.13" y="1315.00" font-size="39" font-family='"Liberation Sans", sans-serif' font-weight="normal" font-style="normal" fill="#000" textLength="169.20" lengthAdjust="spacingAndGlyphs" >imitation</text>
<text x="2065.23" y="1315.00" font-size="39" font-family='"Liberation Sans", sans-serif' font-weight="normal" font-style="normal" fill="#000" textLength="149.98" lengthAdjust="spacingAndGlyphs" >learning</text>
<text x="2224.07" y="1315.00" font-size="39" font-family='"Liberation Sans", sans-serif' font-weight="normal" font-style="normal" fill="#000" textLength="153.88" lengthAdjust="spacingAndGlyphs" >baseline</text>
</svg>
</body></html>
